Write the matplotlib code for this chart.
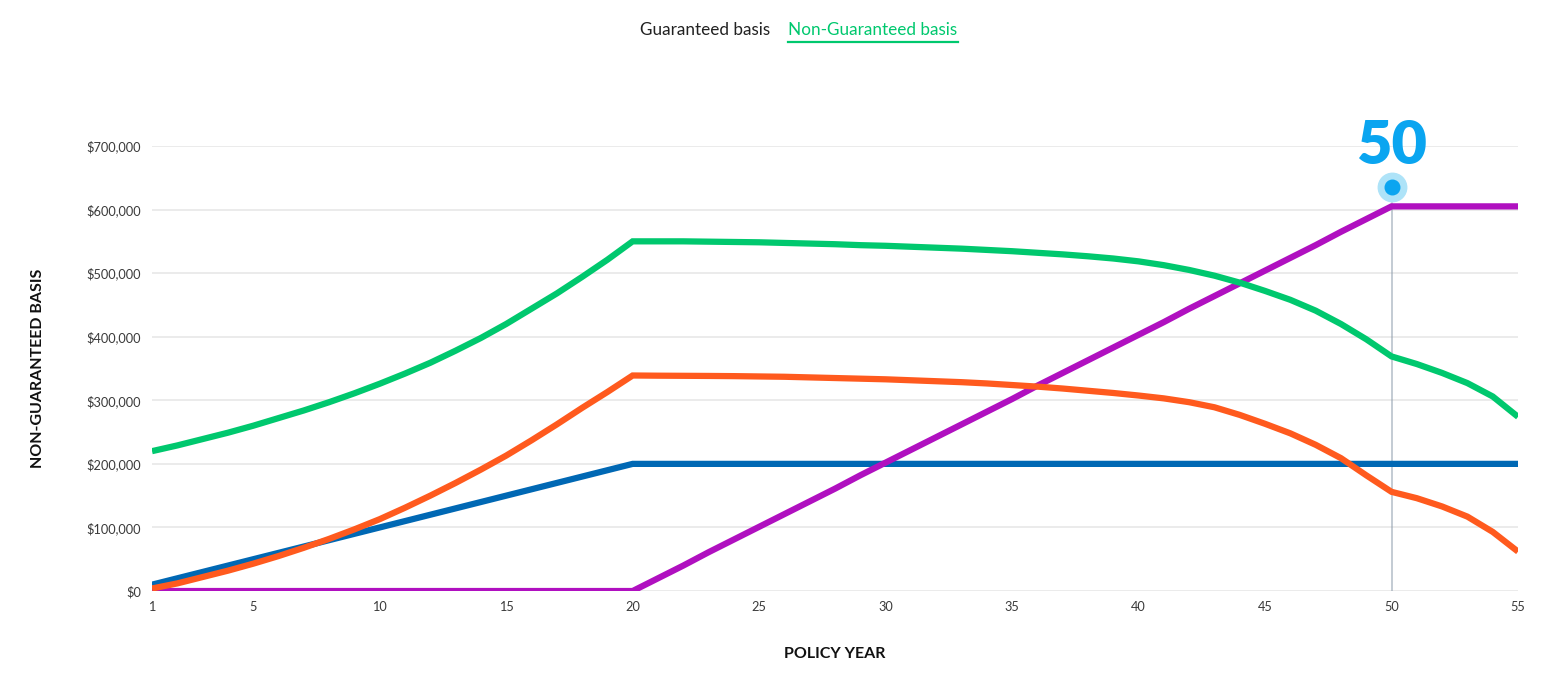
import matplotlib.pyplot as plt
from matplotlib.lines import Line2D
from matplotlib.ticker import FuncFormatter

plt.rcParams['font.family'] = ['Lato', 'DejaVu Sans']

# policy years
years = list(range(1, 56))

# values in thousands of dollars
blue = [10, 20, 30, 40, 50, 60, 70, 80, 90, 100,
        110, 120, 130, 140, 150, 160, 170, 180, 190, 200] + [200] * 35

green = [220, 229, 239, 249, 260, 272, 284, 297, 311, 326,
         342, 359, 378, 398, 420, 444, 468, 494, 521, 550,
         550, 550, 549.5, 549, 548.5, 547.5, 546.5, 545.5, 544, 543,
         541.5, 540, 538.5, 536.5, 534.5, 532, 529.5, 526.5, 523, 518.5,
         512.5, 505, 496, 485, 472, 458, 441, 420, 396, 369,
         357, 343, 327, 306, 274]

orange = [4, 12, 22, 32, 43, 55, 68, 82, 97, 113,
          131, 150, 170, 191, 213, 237, 262, 288, 313, 339,
          338.7, 338.5, 338.3, 338, 337.5, 337, 336, 335, 334, 333,
          331.5, 330, 328.5, 326.5, 324, 321.5, 318.5, 315, 311.5, 307.5,
          303, 297, 289, 277, 263, 248, 230, 209, 182, 156,
          146, 133, 117, 93, 62]

purple = [0] * 20 + [20, 40, 61, 81, 101, 121, 141, 161, 182, 202,
                     222, 242, 262, 282, 302, 323, 343, 363, 383, 403,
                     423, 444, 464, 484, 504, 524, 544, 565, 585, 605,
                     605, 605, 605, 605, 605]

x_ticks = [1, 5, 10, 15, 20, 25, 30, 35, 40, 45, 50, 55]
y_ticks = [0, 100000, 200000, 300000, 400000, 500000, 600000, 700000]
sel_year = 50
sel_marker = 635000

fig = plt.figure(figsize=(15.56, 6.73), dpi=100)
ax = fig.add_axes([0.0977, 0.1218, 0.8779, 0.6613])

series = [(blue, '#0068b4'), (purple, '#b010c0'), (orange, '#ff5a1e'), (green, '#00c86e')]
for vals, col in series:
    ax.plot(years, [v * 1000 for v in vals], color=col, lw=4.5,
            solid_capstyle='butt', solid_joinstyle='miter', zorder=3)

ax.set_xlim(1, 55)
ax.set_ylim(0, 700000)
ax.set_xticks(x_ticks)
ax.set_yticks(y_ticks)
ax.yaxis.set_major_formatter(FuncFormatter(lambda v, p: '${:,.0f}'.format(v)))
ax.grid(axis='y', color='#e8e8e8', lw=1.2, zorder=0)
ax.tick_params(length=0, labelsize=9.2, colors='#3a3a3a')
ax.tick_params(axis='y', pad=8)
ax.tick_params(axis='x', pad=7)
for s in ax.spines.values():
    s.set_visible(False)

ax.set_ylabel('NON-GUARANTEED BASIS', fontsize=11.5, fontweight='bold',
              color='#111111', labelpad=30)
ax.set_xlabel('POLICY YEAR', fontsize=11.5, fontweight='bold',
              color='#111111', labelpad=25)

# hover highlight at year 50
ax.plot([sel_year, sel_year], [0, sel_marker - 25000], color='#8a9aaa', lw=1.2,
        alpha=0.6, zorder=2)
ax.scatter([sel_year], [sel_marker], s=420, color='#aee3f8', zorder=5, clip_on=False)
ax.scatter([sel_year], [sel_marker], s=110, color='#0aa5f0', zorder=6, clip_on=False)
ax.text(sel_year, 700000, str(sel_year), color='#0aa5f0', fontsize=44,
        fontweight='heavy', ha='center', va='center', clip_on=False, zorder=6)

# legend toggle at the top
fig.text(0.4113, 0.955, 'Guaranteed basis', fontsize=12.3, color='#222222',
         ha='left', va='center')
fig.text(0.5064, 0.955, 'Non-Guaranteed basis', fontsize=12.3, color='#00c86e',
         ha='left', va='center')
fig.add_artist(Line2D([0.5064, 0.6157], [0.9376, 0.9376], color='#00c86e', lw=1.6,
                      transform=fig.transFigure))

fig.savefig('out.png', dpi=100)
